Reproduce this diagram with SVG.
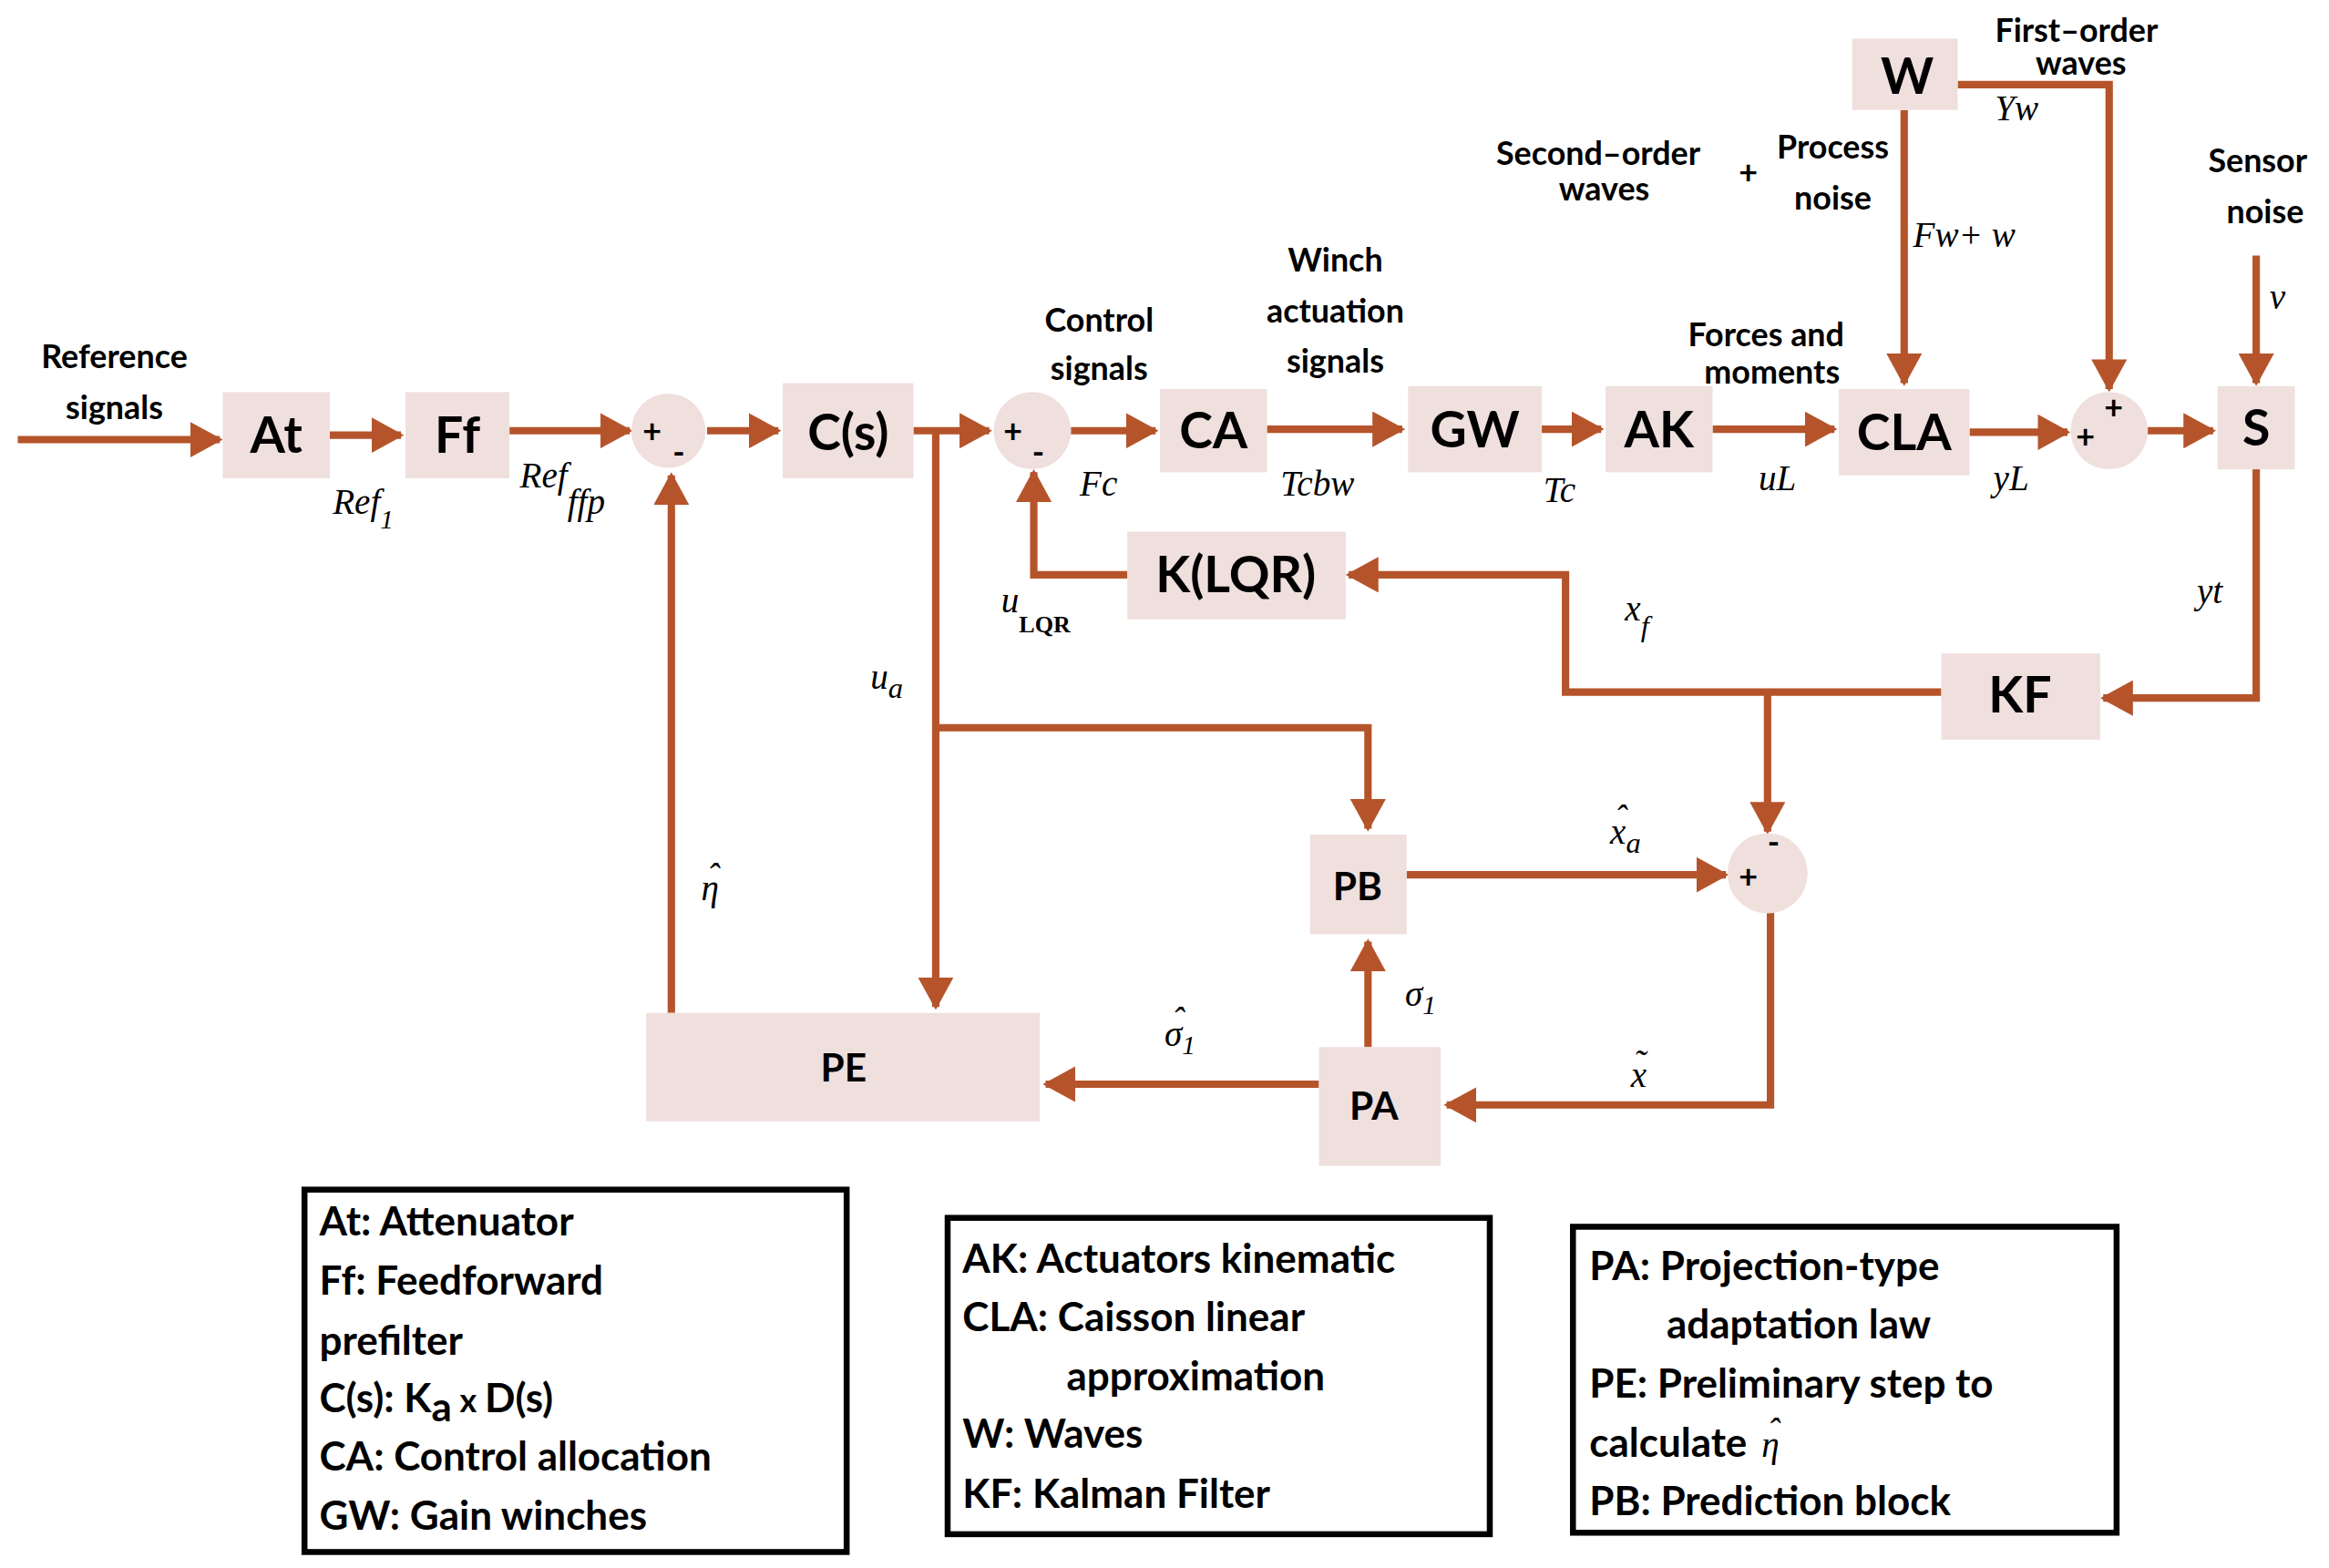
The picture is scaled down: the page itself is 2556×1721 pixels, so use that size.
<svg xmlns="http://www.w3.org/2000/svg" width="2556" height="1721" viewBox="0 0 2556 1721">
<style>
.b{fill:#EFDFDD}
.c{fill:none;stroke:#B5542B;stroke-width:5;marker-end:url(#a)}
.n{font-family:Lato,"Open Sans",sans-serif;font-weight:bold;fill:#000;text-anchor:middle}
.t{font-family:Lato,"Open Sans",sans-serif;font-weight:bold;font-size:22px;text-anchor:middle}
.m{font-family:"Liberation Serif",serif;font-style:italic;font-size:24px}
.g{font-family:Lato,"Open Sans",sans-serif;font-weight:bold;font-size:27px}
.k{fill:none;stroke:#000;stroke-width:4}
</style>
<defs>
<marker id="a" markerUnits="userSpaceOnUse" markerWidth="22" markerHeight="24" refX="20" refY="12" orient="auto"><path d="M0,0L22,12L0,24z" fill="#B5542B"/></marker>
</defs>
<rect width="2556" height="1721" fill="#fff"/>
<g transform="scale(1.6301)">
<g id="connectors">
<path class="c" d="M12,296H148"/>
<path class="c" d="M222,293H270"/>
<path class="c" d="M343,290H424"/>
<path class="c" d="M476,290H524"/>
<path class="c" d="M615,290H666"/>
<path class="c" d="M630,290V678"/>
<path class="c" d="M721,290H778"/>
<path class="c" d="M853,289H944"/>
<path class="c" d="M1038,289H1078"/>
<path class="c" d="M1153,289H1235"/>
<path class="c" d="M1326,291H1392"/>
<path class="c" d="M1446,290H1490"/>
<path class="c" d="M1282,74V258"/>
<path class="c" d="M1318,57H1420V262"/>
<path class="c" d="M1519,172V258"/>
<path class="c" d="M1519,316V470H1416"/>
<path class="c" d="M1307,466H1054V387H908"/>
<path class="c" d="M759,387H696V318"/>
<path class="c" d="M1190,466V560"/>
<path class="c" d="M630,490H921V558"/>
<path class="c" d="M947,589H1162"/>
<path class="c" d="M1192,614V744H974"/>
<path class="c" d="M921,705V634"/>
<path class="c" d="M888,730H704"/>
<path class="c" d="M452,682V320"/>
</g>
<g id="At"><rect class="b" x="150" y="264" width="72" height="58"/><text class="n" x="186" y="305" font-size="34">At</text></g>
<g id="Ff"><rect class="b" x="273" y="264" width="70" height="58"/><text class="n" x="308" y="305" font-size="34">Ff</text></g>
<g id="sum1"><circle class="b" cx="450" cy="290" r="25"/><text class="n" x="439" y="298" font-size="22">+</text><text class="n" x="457" y="312" font-size="22">-</text></g>
<g id="Cs"><rect class="b" x="527" y="258" width="88" height="64"/><text class="n" x="571" y="303" font-size="34">C(s)</text></g>
<g id="sum2"><circle class="b" cx="695" cy="290" r="26"/><text class="n" x="682" y="298" font-size="22">+</text><text class="n" x="699" y="312" font-size="22">-</text></g>
<g id="CA"><rect class="b" x="781" y="262" width="72" height="56"/><text class="n" x="817" y="302" font-size="34">CA</text></g>
<g id="GW"><rect class="b" x="948" y="260" width="90" height="58"/><text class="n" x="993" y="301" font-size="34">GW</text></g>
<g id="AK"><rect class="b" x="1081" y="260" width="72" height="58"/><text class="n" x="1117" y="301" font-size="34">AK</text></g>
<g id="CLA"><rect class="b" x="1238" y="262" width="88" height="58"/><text class="n" x="1282" y="303" font-size="34">CLA</text></g>
<g id="sum3"><circle class="b" cx="1420" cy="290" r="26"/><text class="n" x="1404" y="302" font-size="22">+</text><text class="n" x="1423" y="282" font-size="22">+</text></g>
<g id="S"><rect class="b" x="1493" y="260" width="52" height="56"/><text class="n" x="1519" y="300" font-size="34">S</text></g>
<g id="W"><rect class="b" x="1247" y="26" width="71" height="48"/><text class="n" x="1284" y="63" font-size="34">W</text></g>
<g id="KF"><rect class="b" x="1307" y="440" width="107" height="58"/><text class="n" x="1360" y="480" font-size="34">KF</text></g>
<g id="KLQR"><rect class="b" x="759" y="358" width="147" height="59"/><text class="n" x="832" y="399" font-size="34">K(LQR)</text></g>
<g id="sum4"><circle class="b" cx="1190" cy="588" r="27"/><text class="n" x="1177" y="598" font-size="22">+</text><text class="n" x="1194" y="575" font-size="22">-</text></g>
<g id="PB"><rect class="b" x="882" y="562" width="65" height="67"/><text class="n" x="914" y="606" font-size="26">PB</text></g>
<g id="PA"><rect class="b" x="888" y="705" width="82" height="80"/><text class="n" x="925" y="754" font-size="26">PA</text></g>
<g id="PE"><rect class="b" x="435" y="682" width="265" height="73"/><text class="n" x="568" y="728" font-size="26">PE</text></g>
<g id="labels">
<text class="t" x="77" y="248">Reference</text><text class="t" x="77" y="282">signals</text>
<text class="t" x="740" y="223">Control</text><text class="t" x="740" y="256">signals</text>
<text class="t" x="899" y="183">Winch</text><text class="t" x="899" y="217">actuation</text><text class="t" x="899" y="251">signals</text>
<text class="t" x="1189" y="233">Forces and</text><text class="t" x="1193" y="258">moments</text>
<text class="t" x="1076" y="111">Second–order</text><text class="t" x="1080" y="135">waves</text>
<text class="t" x="1177" y="124">+</text>
<text class="t" x="1234" y="107">Process</text><text class="t" x="1234" y="141">noise</text>
<text class="t" x="1398" y="28" font-size="21">First–order</text><text class="t" x="1401" y="50" font-size="21">waves</text>
<text class="t" x="1520" y="116">Sensor</text><text class="t" x="1525" y="150">noise</text>
<text class="m" x="224" y="346">Ref<tspan font-size="18" dy="10">1</tspan></text>
<text class="m" x="350" y="328">Ref<tspan font-size="24" dy="18">ffp</tspan></text>
<text class="m" x="727" y="334">Fc</text>
<text class="m" x="862" y="334">Tcbw</text>
<text class="m" x="1039" y="338">Tc</text>
<text class="m" x="1184" y="330">uL</text>
<text class="m" x="1342" y="330">yL</text>
<text class="m" x="1479" y="406">yt</text>
<text class="m" x="1288" y="166">Fw+ w</text>
<text class="m" x="1343" y="81">Yw</text>
<text class="m" x="1528" y="208">v</text>
<text class="m" x="586" y="464">u<tspan font-size="20" dy="6">a</tspan></text>
<text class="m" x="674" y="412">u<tspan font-family="Liberation Serif,serif" font-style="normal" font-weight="bold" font-size="16" dy="14">LQR</tspan></text>
<text class="m" x="1094" y="418">x<tspan font-size="20" dy="10">f</tspan></text>
<text class="m" x="472" y="606">η</text><text class="m" x="476" y="598">ˆ</text>
<text class="m" x="1084" y="568">x<tspan font-size="20" dy="6">a</tspan></text><text class="m" x="1087" y="559">ˆ</text>
<text class="m" x="1098" y="732">x</text><text class="m" x="1100" y="724">˜</text>
<text class="m" x="784" y="704">σ<tspan font-size="18" dy="6">1</tspan></text><text class="m" x="789" y="695">ˆ</text>
<text class="m" x="946" y="677">σ<tspan font-size="18" dy="6">1</tspan></text>
</g>
<g id="legend1"><rect class="k" x="205" y="801" width="365" height="244"/>
<text class="g" x="215" y="832">At: Attenuator</text>
<text class="g" x="215" y="872">Ff: Feedforward</text>
<text class="g" x="215" y="912">prefilter</text>
<text class="g" x="215" y="951">C(s): K<tspan dy="6">a</tspan><tspan dy="-6" font-size="22"> x </tspan>D(s)</text>
<text class="g" x="215" y="990">CA: Control  allocation</text>
<text class="g" x="215" y="1030">GW: Gain winches</text></g>
<g id="legend2"><rect class="k" x="638" y="820" width="365" height="213"/>
<text class="g" x="648" y="857">AK: Actuators kinematic</text>
<text class="g" x="648" y="896">CLA: Caisson  linear</text>
<text class="g" x="718" y="936">approximation</text>
<text class="g" x="648" y="975">W: Waves</text>
<text class="g" x="648" y="1015">KF: Kalman Filter</text></g>
<g id="legend3"><rect class="k" x="1059" y="826" width="366" height="206"/>
<text class="g" x="1070" y="862">PA: Projection-type</text>
<text class="g" x="1122" y="901">adaptation law</text>
<text class="g" x="1070" y="941">PE: Preliminary step to</text>
<text class="g" x="1070" y="981">calculate</text>
<text class="m" x="1186" y="981" font-size="27">η</text><text class="m" x="1190" y="972" font-size="27">ˆ</text>
<text class="g" x="1070" y="1020">PB: Prediction block</text></g>
</g>
</svg>
